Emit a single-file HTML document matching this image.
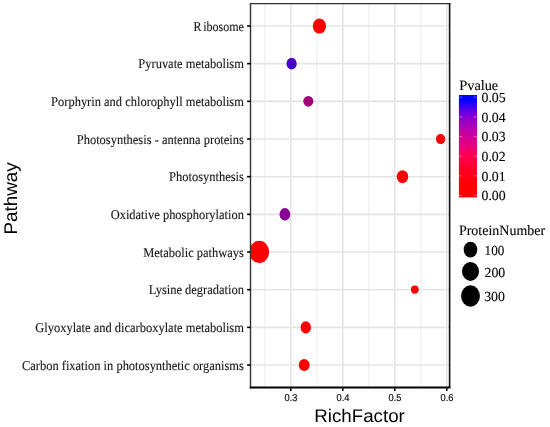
<!DOCTYPE html><html><head><meta charset="utf-8"><style>html,body{margin:0;padding:0;background:#fff;width:550px;height:427px;overflow:hidden}svg{display:block;filter:blur(0.3px);text-rendering:geometricPrecision}.s{font-family:"Liberation Serif",serif}.a{font-family:"Liberation Sans",sans-serif}</style></head><body>
<svg width="550" height="427" viewBox="0 0 550 427">
<rect width="550" height="427" fill="#fff"/>
<defs><clipPath id="pc"><rect x="250.50" y="3.70" width="199.10" height="383.80"/></clipPath>
<linearGradient id="cg" x1="0" y1="1" x2="0" y2="0">
<stop offset="0.000" stop-color="#FF0000"/>
<stop offset="0.121" stop-color="#FF0000"/>
<stop offset="0.219" stop-color="#FF0018"/>
<stop offset="0.307" stop-color="#FF0030"/>
<stop offset="0.404" stop-color="#FF0050"/>
<stop offset="0.492" stop-color="#E80078"/>
<stop offset="0.590" stop-color="#D00098"/>
<stop offset="0.688" stop-color="#B000B8"/>
<stop offset="0.785" stop-color="#8800D0"/>
<stop offset="0.883" stop-color="#4000F0"/>
<stop offset="0.951" stop-color="#0000FF"/>
<stop offset="1.000" stop-color="#0000FF"/>
</linearGradient></defs>
<line x1="264.80" y1="3.70" x2="264.80" y2="387.50" stroke="#F0F0F0" stroke-width="1.3"/>
<line x1="316.80" y1="3.70" x2="316.80" y2="387.50" stroke="#F0F0F0" stroke-width="1.3"/>
<line x1="368.80" y1="3.70" x2="368.80" y2="387.50" stroke="#F0F0F0" stroke-width="1.3"/>
<line x1="420.80" y1="3.70" x2="420.80" y2="387.50" stroke="#F0F0F0" stroke-width="1.3"/>
<line x1="290.80" y1="3.70" x2="290.80" y2="387.50" stroke="#E6E6E6" stroke-width="1.7"/>
<line x1="342.80" y1="3.70" x2="342.80" y2="387.50" stroke="#E6E6E6" stroke-width="1.7"/>
<line x1="394.80" y1="3.70" x2="394.80" y2="387.50" stroke="#E6E6E6" stroke-width="1.7"/>
<line x1="446.80" y1="3.70" x2="446.80" y2="387.50" stroke="#E6E6E6" stroke-width="1.7"/>
<line x1="250.50" y1="26.00" x2="449.60" y2="26.00" stroke="#E4E4E4" stroke-width="1.6"/>
<line x1="250.50" y1="63.67" x2="449.60" y2="63.67" stroke="#E4E4E4" stroke-width="1.6"/>
<line x1="250.50" y1="101.34" x2="449.60" y2="101.34" stroke="#E4E4E4" stroke-width="1.6"/>
<line x1="250.50" y1="139.01" x2="449.60" y2="139.01" stroke="#E4E4E4" stroke-width="1.6"/>
<line x1="250.50" y1="176.68" x2="449.60" y2="176.68" stroke="#E4E4E4" stroke-width="1.6"/>
<line x1="250.50" y1="214.35" x2="449.60" y2="214.35" stroke="#E4E4E4" stroke-width="1.6"/>
<line x1="250.50" y1="252.02" x2="449.60" y2="252.02" stroke="#E4E4E4" stroke-width="1.6"/>
<line x1="250.50" y1="289.69" x2="449.60" y2="289.69" stroke="#E4E4E4" stroke-width="1.6"/>
<line x1="250.50" y1="327.36" x2="449.60" y2="327.36" stroke="#E4E4E4" stroke-width="1.6"/>
<line x1="250.50" y1="365.03" x2="449.60" y2="365.03" stroke="#E4E4E4" stroke-width="1.6"/>
<g clip-path="url(#pc)">
<ellipse cx="319.40" cy="26.10" rx="6.65" ry="7.50" fill="#FF0000"/>
<ellipse cx="291.60" cy="63.70" rx="5.10" ry="5.90" fill="#4800C8"/>
<ellipse cx="308.30" cy="101.30" rx="5.05" ry="5.40" fill="#A0007A"/>
<ellipse cx="440.60" cy="139.10" rx="4.65" ry="5.00" fill="#FF0000"/>
<ellipse cx="402.50" cy="176.60" rx="5.75" ry="6.45" fill="#FF0000"/>
<ellipse cx="284.90" cy="214.30" rx="5.40" ry="6.25" fill="#8A0096"/>
<ellipse cx="259.20" cy="251.90" rx="9.85" ry="11.15" fill="#FF0000"/>
<ellipse cx="414.80" cy="289.60" rx="3.90" ry="4.15" fill="#FF0000"/>
<ellipse cx="305.80" cy="327.40" rx="5.20" ry="6.10" fill="#FF0000"/>
<ellipse cx="304.20" cy="365.00" rx="5.45" ry="6.10" fill="#FF0000"/>
</g>
<line x1="250.50" y1="3.70" x2="450.40" y2="3.70" stroke="#333" stroke-width="1.3"/>
<line x1="449.60" y1="3.10" x2="449.60" y2="387.50" stroke="#111" stroke-width="1.6"/>
<line x1="250.50" y1="3.10" x2="250.50" y2="388.40" stroke="#333" stroke-width="1.4"/>
<line x1="249.80" y1="387.50" x2="450.40" y2="387.50" stroke="#000" stroke-width="2.0"/>
<line x1="247.1" y1="26.00" x2="250.50" y2="26.00" stroke="#000" stroke-width="1.6"/>
<line x1="247.1" y1="63.67" x2="250.50" y2="63.67" stroke="#000" stroke-width="1.6"/>
<line x1="247.1" y1="101.34" x2="250.50" y2="101.34" stroke="#000" stroke-width="1.6"/>
<line x1="247.1" y1="139.01" x2="250.50" y2="139.01" stroke="#000" stroke-width="1.6"/>
<line x1="247.1" y1="176.68" x2="250.50" y2="176.68" stroke="#000" stroke-width="1.6"/>
<line x1="247.1" y1="214.35" x2="250.50" y2="214.35" stroke="#000" stroke-width="1.6"/>
<line x1="247.1" y1="252.02" x2="250.50" y2="252.02" stroke="#000" stroke-width="1.6"/>
<line x1="247.1" y1="289.69" x2="250.50" y2="289.69" stroke="#000" stroke-width="1.6"/>
<line x1="247.1" y1="327.36" x2="250.50" y2="327.36" stroke="#000" stroke-width="1.6"/>
<line x1="247.1" y1="365.03" x2="250.50" y2="365.03" stroke="#000" stroke-width="1.6"/>
<line x1="290.80" y1="387.50" x2="290.80" y2="391" stroke="#000" stroke-width="1.6"/>
<line x1="342.80" y1="387.50" x2="342.80" y2="391" stroke="#000" stroke-width="1.6"/>
<line x1="394.80" y1="387.50" x2="394.80" y2="391" stroke="#000" stroke-width="1.6"/>
<line x1="446.80" y1="387.50" x2="446.80" y2="391" stroke="#000" stroke-width="1.6"/>
<text class="s" transform="translate(243.9,30.70) scale(0.891,1)" font-size="13.50" text-anchor="end" fill="#1a1a1a" stroke="#1a1a1a" stroke-width="0.12">R<tspan dx="1.7">ibosome</tspan></text>
<text class="s" transform="translate(243.9,68.37) scale(0.923,1)" font-size="13.50" text-anchor="end" fill="#1a1a1a" stroke="#1a1a1a" stroke-width="0.12">Pyruvate metabolism</text>
<text class="s" transform="translate(243.9,106.04) scale(0.923,1)" font-size="13.50" text-anchor="end" fill="#1a1a1a" stroke="#1a1a1a" stroke-width="0.12">Porphyrin and chlorophyll metabolism</text>
<text class="s" transform="translate(243.9,143.71) scale(0.923,1)" font-size="13.50" text-anchor="end" fill="#1a1a1a" stroke="#1a1a1a" stroke-width="0.12">Photosynthesis - antenna proteins</text>
<text class="s" transform="translate(243.9,181.38) scale(0.923,1)" font-size="13.50" text-anchor="end" fill="#1a1a1a" stroke="#1a1a1a" stroke-width="0.12">Photosynthesis</text>
<text class="s" transform="translate(243.9,219.05) scale(0.923,1)" font-size="13.50" text-anchor="end" fill="#1a1a1a" stroke="#1a1a1a" stroke-width="0.12">Oxidative phosphorylation</text>
<text class="s" transform="translate(243.9,256.72) scale(0.923,1)" font-size="13.50" text-anchor="end" fill="#1a1a1a" stroke="#1a1a1a" stroke-width="0.12">Metabolic pathways</text>
<text class="s" transform="translate(243.9,294.39) scale(0.923,1)" font-size="13.50" text-anchor="end" fill="#1a1a1a" stroke="#1a1a1a" stroke-width="0.12">Lysine degradation</text>
<text class="s" transform="translate(243.9,332.06) scale(0.923,1)" font-size="13.50" text-anchor="end" fill="#1a1a1a" stroke="#1a1a1a" stroke-width="0.12">Glyoxylate and dicarboxylate metabolism</text>
<text class="s" transform="translate(243.9,369.73) scale(0.923,1)" font-size="13.50" text-anchor="end" fill="#1a1a1a" stroke="#1a1a1a" stroke-width="0.12">Carbon fixation in photosynthetic organisms</text>
<text class="a" transform="translate(291.00,401.2) scale(0.93,1.0)" font-size="10.0" text-anchor="middle" fill="#111" stroke="#111" stroke-width="0.2">0.3</text>
<text class="a" transform="translate(343.00,401.2) scale(0.93,1.0)" font-size="10.0" text-anchor="middle" fill="#111" stroke="#111" stroke-width="0.2">0.4</text>
<text class="a" transform="translate(395.00,401.2) scale(0.93,1.0)" font-size="10.0" text-anchor="middle" fill="#111" stroke="#111" stroke-width="0.2">0.5</text>
<text class="a" transform="translate(447.00,401.2) scale(0.93,1.0)" font-size="10.0" text-anchor="middle" fill="#111" stroke="#111" stroke-width="0.2">0.6</text>
<text class="a" transform="translate(359.5,421.6) scale(1.025,1)" font-size="18.3" text-anchor="middle" fill="#000">RichFactor</text>
<text class="a" transform="translate(16.9,198.4) rotate(-90) scale(1.025,1)" x="0" y="0" font-size="18.4" text-anchor="middle" fill="#000">Pathway</text>
<text class="s" transform="translate(459.3,90.2) scale(1.000,1)" font-size="14.30" fill="#000" stroke="#000" stroke-width="0.1">Pvalue</text>
<rect x="458.9" y="95" width="18.1" height="102.4" fill="url(#cg)"/>
<line x1="458.9" y1="97.20" x2="462.2" y2="97.20" stroke="#fff" stroke-opacity="0.32" stroke-width="1.1"/>
<line x1="473.7" y1="97.20" x2="477" y2="97.20" stroke="#fff" stroke-opacity="0.32" stroke-width="1.1"/>
<text class="s" transform="translate(481.5,102.00) scale(1.000,1)" font-size="13.80" fill="#000" stroke="#000" stroke-width="0.1">0.05</text>
<line x1="458.9" y1="117.00" x2="462.2" y2="117.00" stroke="#fff" stroke-opacity="0.32" stroke-width="1.1"/>
<line x1="473.7" y1="117.00" x2="477" y2="117.00" stroke="#fff" stroke-opacity="0.32" stroke-width="1.1"/>
<text class="s" transform="translate(481.5,121.80) scale(1.000,1)" font-size="13.80" fill="#000" stroke="#000" stroke-width="0.1">0.04</text>
<line x1="458.9" y1="136.60" x2="462.2" y2="136.60" stroke="#fff" stroke-opacity="0.32" stroke-width="1.1"/>
<line x1="473.7" y1="136.60" x2="477" y2="136.60" stroke="#fff" stroke-opacity="0.32" stroke-width="1.1"/>
<text class="s" transform="translate(481.5,141.40) scale(1.000,1)" font-size="13.80" fill="#000" stroke="#000" stroke-width="0.1">0.03</text>
<line x1="458.9" y1="156.20" x2="462.2" y2="156.20" stroke="#fff" stroke-opacity="0.32" stroke-width="1.1"/>
<line x1="473.7" y1="156.20" x2="477" y2="156.20" stroke="#fff" stroke-opacity="0.32" stroke-width="1.1"/>
<text class="s" transform="translate(481.5,161.00) scale(1.000,1)" font-size="13.80" fill="#000" stroke="#000" stroke-width="0.1">0.02</text>
<line x1="458.9" y1="175.80" x2="462.2" y2="175.80" stroke="#fff" stroke-opacity="0.32" stroke-width="1.1"/>
<line x1="473.7" y1="175.80" x2="477" y2="175.80" stroke="#fff" stroke-opacity="0.32" stroke-width="1.1"/>
<text class="s" transform="translate(481.5,180.60) scale(1.000,1)" font-size="13.80" fill="#000" stroke="#000" stroke-width="0.1">0.01</text>
<line x1="458.9" y1="195.40" x2="462.2" y2="195.40" stroke="#fff" stroke-opacity="0.32" stroke-width="1.1"/>
<line x1="473.7" y1="195.40" x2="477" y2="195.40" stroke="#fff" stroke-opacity="0.32" stroke-width="1.1"/>
<text class="s" transform="translate(481.5,200.20) scale(1.000,1)" font-size="13.80" fill="#000" stroke="#000" stroke-width="0.1">0.00</text>
<text class="s" transform="translate(458.9,235.1) scale(0.978,1)" font-size="14.30" fill="#000" stroke="#000" stroke-width="0.1">ProteinNumber</text>
<ellipse cx="470.5" cy="249.60" rx="6.80" ry="7.85" fill="#000"/>
<text class="s" transform="translate(484.60,254.80) scale(0.950,1)" font-size="13.80" fill="#000" stroke="#000" stroke-width="0.1">100</text>
<ellipse cx="470.5" cy="271.40" rx="8.50" ry="9.50" fill="#000"/>
<text class="s" transform="translate(484.50,276.60) scale(1.000,1)" font-size="13.80" fill="#000" stroke="#000" stroke-width="0.1">200</text>
<ellipse cx="470.5" cy="296.00" rx="9.45" ry="10.75" fill="#000"/>
<text class="s" transform="translate(484.20,300.70) scale(1.000,1)" font-size="13.80" fill="#000" stroke="#000" stroke-width="0.1">300</text>
</svg></body></html>
